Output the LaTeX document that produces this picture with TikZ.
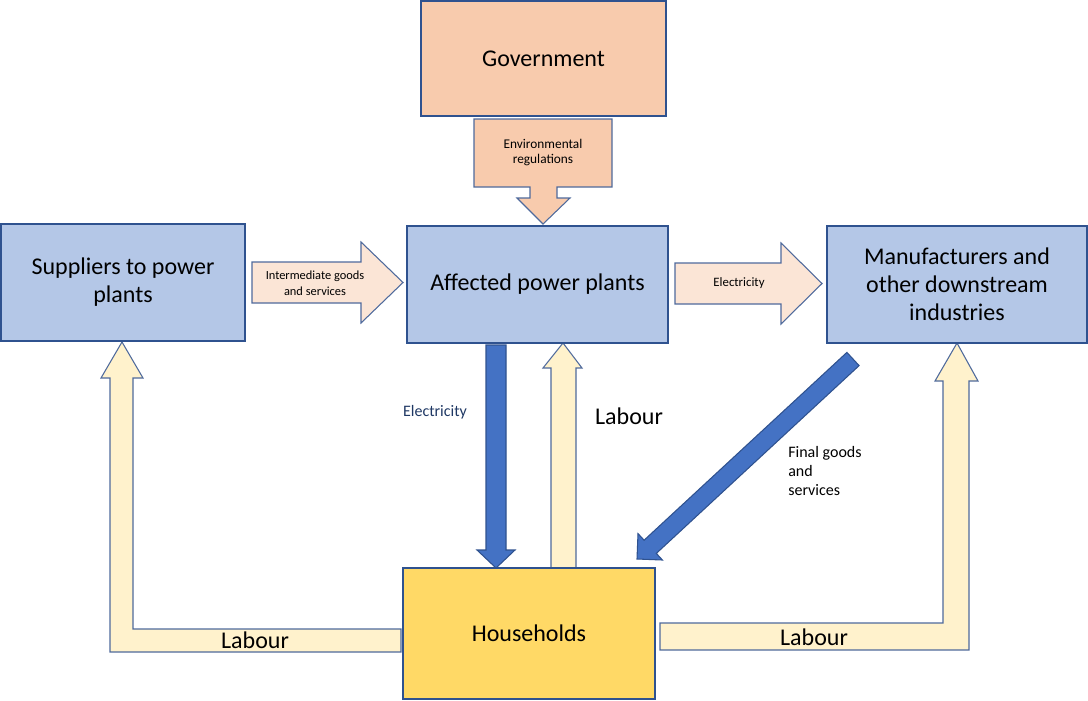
\documentclass[tikz,border=0pt]{standalone}
\usepackage{fontspec}
\setmainfont{Carlito}
\definecolor{boxline}{HTML}{2F528F}
\definecolor{arrline}{HTML}{4F6A9C}
\definecolor{bluebox}{HTML}{B4C7E7}
\definecolor{govfill}{HTML}{F8CBAD}
\definecolor{peach}{HTML}{FBE5D6}
\definecolor{housefill}{HTML}{FFD966}
\definecolor{labourfill}{HTML}{FFF2CC}
\definecolor{bluearrow}{HTML}{4472C4}
\definecolor{navytext}{HTML}{1F3864}
\begin{document}
\begin{tikzpicture}[x=0.75pt,y=-0.75pt,
  box/.style={draw=boxline, line width=1pt, align=center, inner sep=0pt,
    font=\fontsize{18}{21}\selectfont},
  blockarrow/.style={draw=arrline, line width=0.8pt, line join=miter},
  peacharrow/.style={blockarrow, fill=peach},
  labourarrow/.style={blockarrow, fill=labourfill},
  bluearr/.style={draw=boxline, line width=0.8pt, fill=bluearrow},
  govarrow/.style={blockarrow, fill=govfill},
  smalllabel/.style={inner sep=0pt, align=center},
  biglabel/.style={inner sep=0pt, font=\fontsize{18}{21}\selectfont}
]
\useasboundingbox (0,0) rectangle (1088,700);

% ---- block arrows (drawn first, under the boxes)
% environmental regulations (down)
\draw[govarrow] (474,119) -- (612,119) -- (612,187) -- (557,187) -- (557,198)
  -- (570,198) -- (543,224) -- (517,198) -- (530,198) -- (530,187) -- (474,187) -- cycle;
% intermediate goods (right)
\draw[peacharrow] (252,262) -- (361,262) -- (361,242) -- (403,282.5) -- (361,323)
  -- (361,303) -- (252,303) -- cycle;
% electricity (right)
\draw[peacharrow] (675,263) -- (781,263) -- (781,243) -- (822,283.5) -- (781,324)
  -- (781,304) -- (675,304) -- cycle;
% electricity (down, blue)
\draw[bluearr] (486,345) -- (506,345) -- (506,550) -- (515,550) -- (496,568)
  -- (477,550) -- (486,550) -- cycle;
% labour (up, middle)
\draw[labourarrow] (551,568) -- (551,368) -- (543,368) -- (563,343) -- (582,368)
  -- (576,368) -- (576,568) -- cycle;
% labour (left L)
\draw[labourarrow] (401,629) -- (133,629) -- (133,378) -- (143,378) -- (122,342)
  -- (101,378) -- (110,378) -- (110,652) -- (401,652) -- cycle;
% labour (right L)
\draw[labourarrow] (660,623) -- (943,623) -- (943,381) -- (935,381) -- (957,343)
  -- (978,381) -- (969,381) -- (969,650) -- (660,650) -- cycle;
% final goods (diagonal, blue)
\draw[bluearr] (846.9,352.4) -- (859.1,365.6) -- (656.3,553.4) -- (662.4,560.0)
  -- (637,559) -- (638.0,533.6) -- (644.1,540.2) -- cycle;

% ---- boxes
\node[box, fill=govfill, minimum width=183.75pt, minimum height=86.25pt]
  (gov) at (543.5,58.5) {Government};
\node[box, fill=bluebox, minimum width=183pt, minimum height=87.75pt]
  (sup) at (123,282.5) {Suppliers to power\\plants};
\node[box, fill=bluebox, minimum width=195.75pt, minimum height=87.75pt]
  (app) at (537.5,284.5) {Affected power plants};
\node[box, fill=bluebox, minimum width=195pt, minimum height=87.75pt]
  (man) at (957,284.5) {Manufacturers and\\other downstream\\industries};
\node[box, fill=housefill, minimum width=189pt, minimum height=98.25pt]
  (hh) at (529,633.5) {Households};

% ---- labels
\node[smalllabel, font=\fontsize{10}{11.25}\selectfont] (envl) at (543,153)
  {Environmental\\regulations};
\node[smalllabel, font=\fontsize{9.3}{12}\selectfont] (intl) at (315,283)
  {Intermediate goods\\and services};
\node[smalllabel, font=\fontsize{9.6}{12}\selectfont] (elh) at (739,283) {Electricity};
\node[smalllabel, font=\fontsize{12}{14}\selectfont, text=navytext] (elv) at (435,412) {Electricity};
\node[biglabel] (labm) at (629,416) {Labour};
\node[smalllabel, align=left, anchor=west, font=\fontsize{12}{14.25}\selectfont]
  (fgl) at (788,471) {Final goods\\and\\services};
\node[biglabel] (labl) at (255,640) {Labour};
\node[biglabel] (labr) at (814,637) {Labour};
\end{tikzpicture}
\end{document}
